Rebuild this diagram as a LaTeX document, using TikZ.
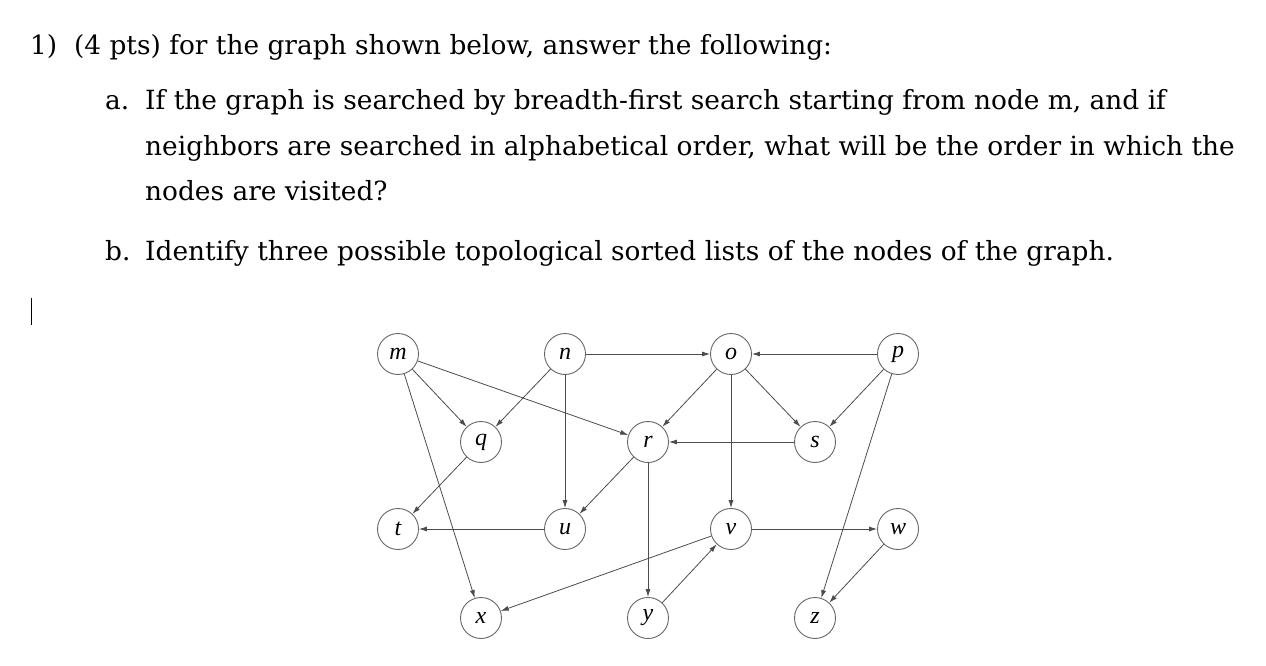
\documentclass[tikz,border=0pt]{standalone}
\usepackage{fontspec}
\setmainfont{DejaVu Serif}
\newfontfamily\labfont{Liberation Serif}
\usetikzlibrary{arrows.meta}
\begin{document}
\begin{tikzpicture}[x=1pt,y=-1pt,
  txt/.style={anchor=base west,inner sep=0,font=\fontsize{26.4}{30}\selectfont},
  vert/.style={circle,draw=black!60,line width=0.9pt,minimum size=41pt,inner sep=0,font=\labfont\fontsize{24}{24}\selectfont\itshape},
  edge/.style={draw=black!70,line width=0.8pt,-{Latex[length=8pt,width=5pt]}}]
\useasboundingbox (0,0) rectangle (1266,666);
\node[txt] (l1) at (30,55) {1)\ \ (4 pts) for the graph shown below, answer the following:};
\node[txt] (a) at (105,110) {a.};
\node[txt] (a1) at (145,110) {If the graph is searched by breadth-first search starting from node m, and if};
\node[txt] (a2) at (145,155) {neighbors are searched in alphabetical order, what will be the order in which the};
\node[txt] (a3) at (145,200) {nodes are visited?};
\node[txt] (b) at (105,260) {b.};
\node[txt] (b1) at (145,260) {Identify three possible topological sorted lists of the nodes of the graph.};
\draw[line width=1pt] (31,298) -- (31,325);
\node[vert] (m) at (398,354) {m};
\node[vert] (n) at (565,354) {n};
\node[vert] (o) at (731,354) {o};
\node[vert] (p) at (898,354) {p};
\node[vert] (q) at (481,442) {q};
\node[vert] (r) at (648,442) {r};
\node[vert] (s) at (815,442) {s};
\node[vert] (t) at (398,529) {t};
\node[vert] (u) at (565,529) {u};
\node[vert] (v) at (731,529) {v};
\node[vert] (w) at (898,529) {w};
\node[vert] (x) at (481,618) {x};
\node[vert] (y) at (648,618) {y};
\node[vert] (z) at (815,618) {z};
\foreach \a/\b in {m/q,m/r,m/x,n/q,n/u,n/o,p/o,o/r,o/s,o/v,p/s,p/z,q/t,s/r,r/u,r/y,u/t,v/w,v/x,y/v,w/z}
  \path[edge] (\a) -- (\b);
\end{tikzpicture}
\end{document}
